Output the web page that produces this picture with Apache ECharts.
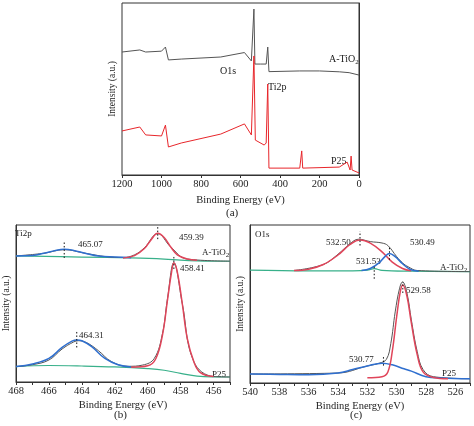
<!DOCTYPE html>
<html>
<head>
<meta charset="utf-8">
<script src="https://cdn.jsdelivr.net/npm/echarts@6/dist/echarts.min.js"></script>
<style>html,body{margin:0;padding:0;background:#fff}#chart{width:474px;height:426px}</style>
</head>
<body>
<div id="chart"></div>
<script>
// survey spectra (a)
var surveyTiO2 = [[1200,71.5],[1110,72.7],[1100,73.5],[1080,71.5],[1000,72],[980,74.4],[965,66.9],[900,67.4],[700,68.6],[580,71.2],[545,66.3],[532,96.5],[527,64.5],[500,64.5],[470,64.5],[462,74.4],[456,60.1],[300,60.5],[200,60.5],[100,60],[50,59.5],[0,58.1]];
var surveyP25 = [[1200,25.6],[1110,27.9],[1100,28.5],[1080,23.3],[1000,22.7],[980,29],[965,16.3],[900,18.6],[700,23.8],[580,29.7],[570,30.8],[545,23.3],[532,69.2],[525,20.3],[480,17.4],[470,18.6],[462,52.9],[456,4],[300,4],[290,14],[285,4],[100,4.6],[60,7.5],[45,2.9],[40,11],[35,2.9],[0,1.2]];
// Ti2p (b)
var ti2pBaseA = [[468,80.3],[464,79.6],[461,79],[459,78.3],[458,77.6],[457,77.2],[455,76.9]];
var ti2pBlueA = [[468,80.3],[467,80.6],[466.3,82],[465.6,83.8],[465.07,84.5],[464.5,83.8],[463.8,82],[463,80.2],[462,79.6],[461,79.2]];
var ti2pRedA = [[461.5,78.9],[460.8,80.5],[460.2,85],[459.8,90.5],[459.39,94.7],[459,92],[458.6,86],[458.2,81],[457.6,78.3],[457,77.6]];
var ti2pSumA = [[468,80.3],[466.3,82],[465.07,84.3],[463.8,82],[462.5,79.8],[461.5,79.3],[460.8,81],[460.2,85.5],[459.39,94.5],[458.6,86],[457.6,78.3],[455,77]];
var ti2pBaseB = [[468,9.8],[466,10.5],[464,10.2],[462,9.6],[460,8.5],[459,7.5],[458,5.5],[457,3.8],[455,3.2]];
var ti2pBlueB = [[468,9.9],[467,11.5],[466,15],[465.2,22],[464.6,26],[464.31,26.8],[464,26.3],[463.4,22.5],[462.6,15],[461.8,11],[461,9.6]];
var ti2pRedB = [[461,9.4],[460,10.3],[459.5,15],[459.1,30],[458.8,52],[458.55,70],[458.41,76],[458.2,70],[457.9,50],[457.6,28],[457.2,13],[456.8,6],[456,3.5]];
var ti2pSumB = [[468,9.8],[467,11],[466,14],[465.2,21],[464.5,25.5],[464.2,26.3],[463.7,25],[463,20],[462.2,13],[461.2,10],[460.3,10.8],[459.6,15],[459.1,31],[458.8,53],[458.41,76],[457.9,50],[457.2,13],[456,3.5],[455,3.2]];
// O1s (c)
var o1sBaseA = [[540,71.5],[536,71],[533,71],[532,71.4],[531.53,72.4],[531,71.3],[529,70.8],[525,70.5]];
var o1sRedA = [[537,71.2],[536,72],[535,75],[534,81],[533.2,87.5],[532.5,90.5],[531.8,88.5],[531,83],[530.3,76.5],[529.6,72.5],[529,71]];
var o1sBlueA = [[532.4,71.2],[531.8,72.5],[531.2,76],[530.8,80],[530.49,82],[530.1,80],[529.6,75.5],[529.1,72],[528.5,70.8]];
var o1sSumA = [[537,71.2],[535,75],[534,81.5],[533.2,88],[532.6,91],[531.8,89.5],[531,88.6],[530.6,87],[530,80],[529.6,76],[529.2,73.5],[528.6,71.2],[525,70.5]];
var o1sBlueB = [[540,5.7],[538,5.4],[536,5.2],[534,6.3],[533,8.5],[532,10.8],[531,12.5],[530.3,11.5],[529.5,9],[529,7.5],[528,4],[527,3.2],[525,2.7]];
var o1sRedB = [[532,3.3],[531,4],[530.6,7],[530.3,20],[530,42],[529.75,58],[529.58,62],[529.3,55],[529,38],[528.6,18],[528.2,7],[527.5,3.5],[526.5,2.7]];
var o1sSumB = [[540,5.7],[534,6.3],[532,10.8],[531.2,12.5],[530.7,15],[530.4,25],[530.1,45],[529.8,60],[529.6,64],[529.3,57],[529,40],[528.6,20],[528.2,8.5],[527.5,4],[525,2.7]];

var ticksA = [1200,1000,800,600,400,200,0];
var ticksB = [468,466,464,462,460,458,456];
var ticksC = [540,538,536,534,532,530,528,526];
var minorB = [467,465,463,461,459,457,455];
var minorC = [539,537,535,533,531,529,527,525];

var FONT = '"Liberation Serif","DejaVu Serif",serif';
var GRAY = '#555', RED = '#e8262b', RED2 = '#e0455a', BLUE = '#2f6fcf', GREEN = '#38b08a';

function xAx(idx, min, max, ticks, minor, gap) {
    var ax = {
        gridIndex: idx, type: 'value', min: min, max: max, inverse: true,
        axisLine: {onZero: false, lineStyle: {color: '#333'}},
        axisTick: {inside: false, length: 3, lineStyle: {color: '#333'}, customValues: ticks},
        axisLabel: {customValues: ticks, color: '#222', fontFamily: FONT, fontSize: 10.5, margin: 4,
            formatter: function (v) { return String(v); }},
        splitLine: {show: false},
        name: 'Binding Energy (eV)', nameLocation: 'middle', nameGap: gap,
        nameTextStyle: {fontFamily: FONT, fontSize: 10.5, color: '#222'}
    };
    if (minor) {
        ax.axisTick.customValues = ticks.concat(minor);
    }
    return ax;
}
function yAx(idx) {
    return {
        gridIndex: idx, type: 'value', min: 0, max: 100,
        axisLine: {show: true, lineStyle: {color: '#333'}},
        axisTick: {show: false}, axisLabel: {show: false}, splitLine: {show: false},
        name: 'Intensity (a.u.)', nameLocation: 'middle', nameGap: 5,
        nameTextStyle: {fontFamily: FONT, fontSize: 9.5, color: '#222'}
    };
}
function line(idx, data, color, w, z) {
    return {type: 'line', xAxisIndex: idx, yAxisIndex: idx, data: data, smooth: idx > 0 ? 0.4 : false,
        showSymbol: false, lineStyle: {color: color, width: w || 1.2}, z: z || 2, animation: false};
}
function mark(idx, x, y1, y2) {
    return {type: 'line', xAxisIndex: idx, yAxisIndex: idx, data: [[x, y1], [x, y2]], showSymbol: false,
        lineStyle: {color: '#111', width: 1, type: [1.5, 2]}, z: 5, animation: false};
}
function txt(x, y, t, size) {
    return {type: 'text', left: x, top: y, style: {text: t, fontFamily: FONT, fontSize: size || 10, fill: '#222',
        rich: {s: {fontSize: 7, fontFamily: FONT, padding: [6, 0, 0, 0]}}}};
}

var option = {
    backgroundColor: '#fff',
    grid: [
        {left: 122, top: 3, width: 237, height: 172, show: true, borderColor: '#333', borderWidth: 1},
        {left: 12, top: 225, width: 218, height: 157, show: true, borderColor: '#333', borderWidth: 1},
        {left: 250, top: 225, width: 220, height: 158, show: true, borderColor: '#333', borderWidth: 1}
    ],
    xAxis: [xAx(0, 0, 1200, ticksA, null, 20), xAx(1, 455, 468, ticksB, minorB, 18), xAx(2, 525, 540, ticksC, minorC, 18)],
    yAxis: [yAx(0), yAx(1), yAx(2)],
    series: [
        line(0, surveyTiO2, GRAY, 1),
        line(0, surveyP25, RED, 1),
        line(1, ti2pBaseA, GREEN), line(1, ti2pSumA, GRAY, 1), line(1, ti2pBlueA, BLUE, 1.5), line(1, ti2pRedA, RED2, 1.5),
        line(1, ti2pBaseB, GREEN), line(1, ti2pSumB, GRAY, 1), line(1, ti2pBlueB, BLUE, 1.5), line(1, ti2pRedB, RED2, 1.5),
        line(2, o1sBaseA, GREEN), line(2, o1sSumA, GRAY, 1), line(2, o1sRedA, RED2, 1.5), line(2, o1sBlueA, BLUE, 1.5),
        line(2, o1sSumB, GRAY, 1), line(2, o1sBlueB, BLUE, 1.5), line(2, o1sRedB, RED2, 1.5),
        mark(1, 465.07, 79, 89), mark(1, 459.39, 91, 99), mark(1, 458.41, 72, 80), mark(1, 464.31, 22, 33),
        mark(2, 532.5, 87, 96), mark(2, 530.49, 78, 86), mark(2, 531.53, 66, 74), mark(2, 529.58, 57, 64), mark(2, 530.9, 11, 17)
    ],
    graphic: [
        txt(329, 54, 'A-TiO{s|2}'), txt(220, 66, 'O1s'), txt(268, 82, 'Ti2p'), txt(331, 156, 'P25'),
        txt(226, 208, '(a)', 11),
        txt(15, 229, 'Ti2p', 9), txt(78, 240, '465.07', 9), txt(179, 233, '459.39', 9), txt(202, 248, 'A-TiO{s|2}', 9),
        txt(180, 264, '458.41', 9), txt(79, 331, '464.31', 9), txt(212, 370, 'P25', 9),
        txt(114, 410, '(b)', 11),
        txt(255, 230, 'O1s', 9), txt(326, 238, '532.50', 9), txt(410, 238, '530.49', 9), txt(356, 257, '531.53', 9),
        txt(440, 263, 'A-TiO{s|2}', 9), txt(406, 286, '529.58', 9), txt(349, 355, '530.77', 9), txt(442, 369, 'P25', 9),
        txt(350, 410, '(c)', 11)
    ]
};
var myChart = echarts.init(document.getElementById('chart'));
myChart.setOption(option);
</script>
</body>
</html>
